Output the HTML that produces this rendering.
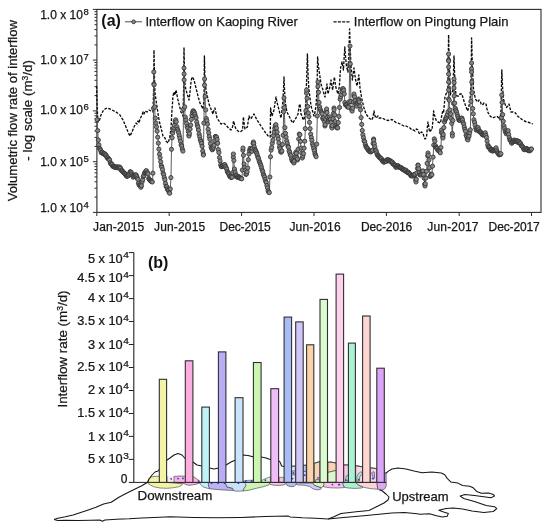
<!DOCTYPE html>
<html><head><meta charset="utf-8"><title>Interflow</title>
<style>html,body{margin:0;padding:0;background:#fff;}body{width:550px;height:529px;position:relative;overflow:hidden;font-family:"Liberation Sans",Arial,sans-serif;}</style>
</head><body>
<svg width="550" height="529" viewBox="0 0 550 529" style="position:absolute;left:0;top:0">
<rect x="0" y="0" width="550" height="529" fill="#fff"/>
<rect x="96.9" y="9.4" width="444.1" height="203.0" fill="none" stroke="#2b2b2b" stroke-width="1.1"/>
<path d="M92.9,9.4H96.9 M94.5,44.9H96.9 M94.5,35.9H96.9 M94.5,29.6H96.9 M94.5,24.7H96.9 M94.5,20.7H96.9 M94.5,17.3H96.9 M94.5,14.3H96.9 M94.5,11.7H96.9 M92.9,60.1H96.9 M94.5,95.6H96.9 M94.5,86.7H96.9 M94.5,80.3H96.9 M94.5,75.4H96.9 M94.5,71.4H96.9 M94.5,68.0H96.9 M94.5,65.1H96.9 M94.5,62.5H96.9 M92.9,110.9H96.9 M94.5,146.4H96.9 M94.5,137.4H96.9 M94.5,131.1H96.9 M94.5,126.2H96.9 M94.5,122.2H96.9 M94.5,118.8H96.9 M94.5,115.8H96.9 M94.5,113.2H96.9 M92.9,161.7H96.9 M94.5,197.1H96.9 M94.5,188.2H96.9 M94.5,181.8H96.9 M94.5,176.9H96.9 M94.5,172.9H96.9 M94.5,169.5H96.9 M94.5,166.6H96.9 M94.5,164.0H96.9 M92.9,212.4H96.9" stroke="#2b2b2b" stroke-width="1" fill="none"/>
<path d="M96.8,212.4V216.0 M169.2,212.4V216.0 M241.6,212.4V216.0 M314,212.4V216.0 M386.4,212.4V216.0 M459.2,212.4V216.0 M531.5,212.4V216.0" stroke="#2b2b2b" stroke-width="1" fill="none"/>
<polyline points="96.6,86.0 97.0,100.0 97.5,115.0 98.0,122.0 99.5,120.0 101.0,115.0 103.0,111.0 105.0,109.0 107.0,108.0 110.0,109.0 113.0,110.5 116.0,112.0 120.0,115.0 123.0,120.0 126.0,127.0 128.0,132.0 130.0,136.0 132.0,132.0 134.0,127.0 136.0,123.0 137.0,124.0 138.0,121.0 139.0,123.0 140.0,119.0 142.0,115.0 143.0,112.0 144.0,114.0 145.0,111.0 147.0,112.0 149.0,110.0 151.0,111.0 153.0,112.0 153.6,90.0 154.0,50.0 154.5,80.0 155.0,93.0 156.0,100.0 157.5,110.0 159.0,120.0 161.0,128.0 163.0,136.0 165.0,138.0 166.0,141.0 168.0,143.0 169.0,140.0 170.0,136.0 171.0,128.0 172.0,110.0 173.0,96.0 174.0,92.0 175.0,95.0 176.0,90.0 177.0,95.0 178.0,100.0 179.5,106.0 181.0,112.0 182.0,114.0 183.0,116.0 183.6,90.0 184.0,47.5 184.5,75.0 185.0,85.0 186.0,90.0 187.5,95.0 189.0,100.0 190.0,92.0 191.0,82.0 192.0,77.0 193.0,78.0 194.0,80.0 195.5,86.0 197.0,92.0 198.5,98.0 200.0,103.0 201.5,106.0 203.0,109.0 204.0,100.0 204.4,56.0 205.0,80.0 206.0,90.0 207.5,97.0 209.0,104.0 211.0,109.0 213.0,114.0 214.0,110.0 215.0,108.0 216.0,113.0 217.0,118.0 219.0,121.0 221.0,124.0 223.5,123.0 226.0,125.0 228.5,128.0 231.0,130.0 232.5,127.0 233.6,121.0 234.8,126.0 236.0,129.0 238.0,131.0 240.0,132.0 241.5,131.0 242.6,130.0 243.4,117.0 244.2,124.0 245.0,129.0 246.2,128.0 247.4,127.0 248.2,121.0 249.0,116.0 250.0,118.0 251.0,119.0 252.5,116.0 254.0,114.0 255.5,117.0 257.0,120.0 259.0,123.0 261.0,126.0 263.0,129.0 265.0,132.0 267.0,134.5 269.0,137.0 270.2,137.0 270.6,108.0 271.3,113.0 272.0,116.0 273.0,113.0 274.0,110.0 275.0,103.0 276.0,97.0 277.0,102.0 278.0,106.0 279.5,112.0 281.0,118.0 282.0,110.0 283.0,100.0 284.0,77.0 285.0,100.0 286.0,107.0 287.0,112.0 288.5,115.0 290.0,118.0 291.5,121.0 293.0,123.0 294.5,120.0 296.0,118.0 297.0,116.0 298.0,114.0 299.4,105.0 300.0,104.0 301.0,114.0 302.0,116.0 303.0,119.0 304.0,120.0 305.0,112.0 306.0,100.0 307.4,54.0 308.2,78.0 309.0,90.0 310.0,98.0 311.0,106.0 312.5,111.0 314.0,116.0 315.0,112.0 316.0,106.0 317.0,90.0 317.6,57.0 318.3,65.0 319.0,70.0 320.0,77.0 321.0,84.0 322.0,87.0 323.0,90.0 324.0,94.0 325.0,97.0 326.0,90.0 327.0,84.0 328.0,94.0 329.0,90.0 329.6,88.0 331.0,80.0 332.0,86.0 332.6,90.0 333.5,83.0 334.4,77.0 335.2,83.0 336.0,88.0 337.0,91.0 338.0,94.0 339.4,86.0 340.0,76.0 340.6,68.0 342.0,62.0 343.4,70.0 344.0,60.0 344.8,47.0 345.6,57.0 346.4,66.0 347.2,69.0 348.0,72.0 348.8,55.0 349.6,29.0 350.3,50.0 351.0,66.0 352.4,80.0 353.2,74.0 354.0,68.0 354.8,74.0 355.6,80.0 357.0,86.0 358.0,80.0 358.8,75.0 359.5,82.0 360.0,88.0 361.0,94.0 362.0,100.0 363.0,104.0 364.0,108.0 365.0,111.0 366.0,114.0 367.5,116.0 369.0,118.0 370.5,119.0 372.0,120.0 373.0,117.0 374.0,111.0 374.8,115.0 375.6,118.0 377.0,117.0 378.0,116.0 379.0,118.0 380.0,118.0 382.0,118.0 384.0,119.0 386.0,120.0 388.0,120.5 390.0,120.0 392.0,119.5 394.0,121.0 396.0,122.5 398.0,123.0 400.0,124.0 402.0,125.0 404.0,126.0 406.0,126.0 408.0,127.0 410.0,128.0 412.0,130.0 413.5,130.0 415.0,131.0 416.5,129.0 418.0,130.0 419.0,133.0 420.0,134.0 421.5,132.0 423.0,133.0 424.0,137.0 425.0,139.0 426.0,138.0 426.6,136.0 427.3,128.0 428.0,122.0 428.8,127.0 429.6,132.0 431.0,130.0 432.0,130.0 433.0,120.0 433.6,111.0 434.5,115.0 436.0,120.0 438.0,122.0 440.5,123.0 441.5,117.0 442.7,111.0 443.6,112.0 445.0,97.0 446.0,94.0 446.8,93.0 447.8,93.0 448.2,60.0 448.6,34.8 449.2,60.0 450.2,95.0 451.0,93.0 451.8,93.0 453.0,90.0 454.0,56.0 455.0,85.0 456.0,95.0 457.5,96.0 458.6,96.0 460.0,94.0 462.0,94.0 463.0,98.0 464.3,102.0 466.0,107.0 467.7,111.0 469.0,106.0 470.0,99.5 471.0,85.0 471.6,38.0 472.3,65.0 473.4,88.0 474.5,95.0 475.7,99.5 477.0,101.0 478.0,102.0 479.0,100.0 480.2,101.0 481.2,104.0 482.5,105.0 484.0,103.0 486.0,104.0 487.0,109.0 488.2,113.0 490.0,116.0 492.7,118.0 495.0,117.0 497.3,116.6 498.7,118.0 500.0,120.0 501.0,110.0 501.8,70.0 502.6,88.0 503.6,99.5 505.0,104.0 506.4,107.5 507.7,106.0 509.0,104.0 510.0,108.0 511.0,112.0 513.0,112.0 515.5,113.0 517.5,116.0 520.0,118.0 522.0,119.5 524.5,121.0 527.0,122.0 529.0,122.5 531.4,123.4 532.8,124.0" fill="none" stroke="#0a0a0a" stroke-width="1.35" stroke-dasharray="2.8 1.4" stroke-linejoin="round"/>
<polyline points="97.1,120.0 97.4,126.0 97.8,132.0 98.4,142.0 99.5,148.0 101.0,152.0 103.0,153.0 105.0,154.0 107.0,157.0 109.0,159.0 111.0,164.0 113.0,166.0 116.0,167.0 118.0,167.0 120.0,168.0 123.0,172.0 125.0,174.0 127.0,176.0 129.0,174.0 131.0,171.0 133.0,177.0 135.0,175.0 137.0,176.0 139.0,185.0 141.0,187.0 142.0,183.0 143.0,178.0 145.0,172.0 146.0,170.0 148.0,174.0 149.0,180.0 151.0,181.0 152.5,183.0 153.0,170.0 153.3,133.0 153.8,72.0 154.5,100.0 155.0,116.0 156.0,124.0 157.0,130.0 158.0,140.0 159.0,150.0 160.0,157.0 161.0,164.0 162.5,170.0 164.0,176.0 165.0,181.0 166.0,186.0 167.0,188.0 168.0,190.0 169.0,192.0 170.0,194.0 171.0,176.0 171.5,149.0 172.0,138.0 173.0,132.0 174.0,127.0 175.0,122.0 176.0,119.0 177.0,128.0 178.0,131.0 179.0,134.0 180.0,139.0 181.0,144.0 182.0,148.0 183.0,151.0 184.0,68.0 184.5,100.0 185.0,116.0 186.0,121.0 187.0,126.0 188.0,130.0 189.0,136.0 190.0,130.0 191.0,122.0 192.0,115.0 193.0,110.0 194.0,112.0 195.0,115.0 196.0,118.0 198.0,128.0 200.0,138.0 202.0,146.0 203.4,155.0 204.6,79.0 205.2,100.0 206.0,116.0 207.0,122.0 208.0,128.0 209.0,134.0 210.0,140.0 211.0,146.0 212.0,150.0 213.0,148.0 214.0,146.0 215.4,136.0 216.5,138.0 217.4,140.0 218.0,147.0 219.0,154.0 220.0,160.0 221.0,166.0 223.0,166.0 225.0,165.0 227.0,170.0 229.0,175.0 231.0,177.0 232.5,178.0 233.4,154.0 234.4,168.0 236.0,176.0 238.0,177.0 240.0,178.0 242.0,179.0 243.0,148.0 244.0,164.0 245.0,170.0 246.0,174.0 247.4,172.0 248.6,156.0 250.0,148.0 251.0,150.0 252.0,152.0 253.4,142.0 255.0,150.0 257.0,154.0 259.0,160.0 261.0,166.0 262.5,171.0 264.0,176.0 266.0,182.0 268.0,190.0 269.4,193.0 270.6,153.0 272.0,146.0 273.4,136.0 275.0,126.0 276.0,124.0 277.0,132.0 278.0,138.0 279.0,144.0 280.0,149.0 281.0,154.0 282.0,150.0 283.0,140.0 283.5,120.0 284.0,98.0 284.5,115.0 285.0,130.0 286.0,136.0 287.0,142.0 288.0,146.0 289.0,150.0 290.5,155.0 292.0,160.0 294.0,163.0 295.0,158.0 296.0,152.0 297.4,160.0 298.2,148.0 299.0,134.0 300.0,135.0 301.0,148.0 302.4,158.0 303.2,155.0 304.0,150.0 305.0,137.0 306.6,90.0 307.2,100.0 308.0,110.0 309.0,118.0 309.6,124.0 311.0,136.0 312.0,141.0 313.0,146.0 314.0,150.0 315.0,154.0 316.4,158.0 318.0,82.0 318.5,92.0 319.0,102.0 320.0,108.0 321.0,112.0 322.0,114.0 323.0,120.0 324.0,118.0 325.0,126.0 326.6,109.0 328.0,122.0 329.0,119.0 330.0,116.0 331.0,122.0 332.0,128.0 333.0,118.0 334.0,108.0 335.0,118.0 335.6,126.0 337.6,128.0 338.3,122.0 339.0,116.0 340.0,100.0 341.0,96.0 342.4,88.0 343.0,89.0 344.0,90.0 345.0,104.0 346.0,105.0 347.0,106.0 348.0,107.0 349.0,108.0 350.0,46.0 351.0,108.0 352.4,112.0 353.2,103.0 354.0,94.0 355.0,100.0 355.6,104.0 357.0,106.0 358.6,99.0 360.0,106.0 360.5,110.0 361.0,116.0 361.7,124.0 362.4,132.0 363.2,136.0 364.0,140.0 365.0,143.0 366.0,146.0 368.0,150.0 369.5,151.0 371.0,152.0 372.5,150.0 373.6,139.0 375.0,148.0 377.0,154.0 378.5,156.0 380.0,158.0 382.0,160.0 384.0,162.0 386.0,161.0 388.0,160.0 390.0,161.0 392.0,162.0 394.0,165.0 396.0,167.0 398.0,166.0 400.0,167.0 402.0,169.0 404.0,170.0 406.0,171.0 408.0,172.0 410.0,174.0 412.0,176.0 413.5,175.0 415.0,174.0 416.0,182.0 417.0,172.0 418.0,165.0 419.0,171.0 420.0,176.0 421.5,173.0 423.0,170.0 424.0,178.0 425.0,186.0 426.0,178.0 427.0,165.0 428.0,153.0 429.0,160.0 430.0,176.0 431.0,175.0 432.0,174.0 433.5,150.0 434.0,137.0 435.0,142.0 435.6,146.0 437.0,148.0 438.0,150.0 439.5,152.0 440.6,154.0 441.2,142.0 441.6,130.0 443.0,138.0 444.4,122.0 445.2,120.0 446.0,118.0 447.0,116.0 448.0,114.0 448.5,100.0 448.6,54.0 449.4,107.0 450.5,114.0 451.6,122.0 452.4,136.0 453.6,100.0 454.0,79.0 454.5,100.0 455.0,108.0 456.0,111.0 457.0,114.0 458.0,118.0 459.0,121.0 460.5,120.0 462.0,118.0 463.0,122.0 464.0,126.0 465.0,130.0 466.0,134.0 467.6,141.0 469.0,136.0 470.4,130.0 471.6,63.0 472.0,90.0 472.5,106.0 473.2,113.0 474.0,120.0 475.0,125.0 476.0,130.0 477.0,129.0 478.0,128.0 479.0,130.0 480.0,132.0 481.5,134.0 483.0,136.0 484.3,134.0 485.6,133.0 487.0,140.0 488.0,146.0 489.5,148.0 491.0,150.0 492.5,150.5 494.0,151.0 495.0,149.0 496.0,148.0 497.0,151.0 498.0,153.0 499.0,154.0 500.0,155.0 501.0,154.0 501.8,95.0 502.4,110.0 503.0,120.0 504.0,126.0 504.7,129.0 505.5,132.0 506.4,134.0 507.2,132.0 508.0,131.0 509.0,136.0 509.8,139.4 511.5,143.0 513.0,141.0 514.0,140.0 515.3,141.0 516.6,141.0 518.0,142.0 519.0,142.0 520.4,144.0 521.7,146.0 523.0,148.0 524.3,149.6 525.5,149.0 526.8,148.8 528.0,150.0 529.4,150.5 530.7,149.8 532.0,149.3" fill="none" stroke="#4a4a4a" stroke-width="0.9" stroke-linejoin="round"/>
<g fill="#868686" stroke="#333" stroke-width="0.85">
<circle cx="97.1" cy="119.6" r="2.1"/>
<circle cx="97.7" cy="130.6" r="2.1"/>
<circle cx="98.3" cy="140.1" r="2.1"/>
<circle cx="98.9" cy="144.9" r="2.1"/>
<circle cx="99.5" cy="148.2" r="2.1"/>
<circle cx="100.1" cy="148.9" r="2.1"/>
<circle cx="100.7" cy="150.4" r="2.1"/>
<circle cx="101.3" cy="152.7" r="2.1"/>
<circle cx="101.9" cy="152.1" r="2.1"/>
<circle cx="102.5" cy="152.3" r="2.1"/>
<circle cx="103.1" cy="153.8" r="2.1"/>
<circle cx="103.7" cy="153.3" r="2.1"/>
<circle cx="104.3" cy="154.2" r="2.1"/>
<circle cx="104.9" cy="153.9" r="2.1"/>
<circle cx="105.5" cy="155.0" r="2.1"/>
<circle cx="106.1" cy="155.1" r="2.1"/>
<circle cx="106.7" cy="156.8" r="2.1"/>
<circle cx="107.3" cy="157.9" r="2.1"/>
<circle cx="107.9" cy="157.9" r="2.1"/>
<circle cx="108.5" cy="158.9" r="2.1"/>
<circle cx="109.1" cy="159.5" r="2.1"/>
<circle cx="109.7" cy="160.1" r="2.1"/>
<circle cx="110.3" cy="162.7" r="2.1"/>
<circle cx="110.9" cy="163.9" r="2.1"/>
<circle cx="111.5" cy="164.2" r="2.1"/>
<circle cx="112.1" cy="164.3" r="2.1"/>
<circle cx="112.7" cy="166.3" r="2.1"/>
<circle cx="113.3" cy="166.1" r="2.1"/>
<circle cx="113.9" cy="166.7" r="2.1"/>
<circle cx="114.5" cy="167.1" r="2.1"/>
<circle cx="115.1" cy="167.0" r="2.1"/>
<circle cx="115.7" cy="167.6" r="2.1"/>
<circle cx="116.3" cy="166.8" r="2.1"/>
<circle cx="116.9" cy="167.5" r="2.1"/>
<circle cx="117.5" cy="166.9" r="2.1"/>
<circle cx="118.1" cy="167.7" r="2.1"/>
<circle cx="118.7" cy="168.0" r="2.1"/>
<circle cx="119.3" cy="167.0" r="2.1"/>
<circle cx="119.9" cy="167.4" r="2.1"/>
<circle cx="120.5" cy="168.2" r="2.1"/>
<circle cx="121.1" cy="170.2" r="2.1"/>
<circle cx="121.7" cy="170.2" r="2.1"/>
<circle cx="122.3" cy="171.3" r="2.1"/>
<circle cx="122.9" cy="171.5" r="2.1"/>
<circle cx="123.5" cy="172.5" r="2.1"/>
<circle cx="124.1" cy="172.9" r="2.1"/>
<circle cx="124.7" cy="173.5" r="2.1"/>
<circle cx="125.3" cy="174.4" r="2.1"/>
<circle cx="125.9" cy="175.0" r="2.1"/>
<circle cx="126.5" cy="176.1" r="2.1"/>
<circle cx="127.1" cy="176.2" r="2.1"/>
<circle cx="127.7" cy="176.0" r="2.1"/>
<circle cx="128.3" cy="175.3" r="2.1"/>
<circle cx="128.9" cy="174.9" r="2.1"/>
<circle cx="129.5" cy="173.5" r="2.1"/>
<circle cx="130.1" cy="171.8" r="2.1"/>
<circle cx="130.7" cy="172.0" r="2.1"/>
<circle cx="131.3" cy="172.6" r="2.1"/>
<circle cx="131.9" cy="174.3" r="2.1"/>
<circle cx="132.5" cy="175.6" r="2.1"/>
<circle cx="133.1" cy="177.2" r="2.1"/>
<circle cx="133.7" cy="175.8" r="2.1"/>
<circle cx="134.3" cy="176.2" r="2.1"/>
<circle cx="134.9" cy="175.2" r="2.1"/>
<circle cx="135.5" cy="174.9" r="2.1"/>
<circle cx="136.1" cy="174.9" r="2.1"/>
<circle cx="136.7" cy="176.4" r="2.1"/>
<circle cx="137.3" cy="178.1" r="2.1"/>
<circle cx="137.9" cy="179.4" r="2.1"/>
<circle cx="138.5" cy="183.2" r="2.1"/>
<circle cx="139.1" cy="185.0" r="2.1"/>
<circle cx="139.7" cy="185.1" r="2.1"/>
<circle cx="140.3" cy="186.0" r="2.1"/>
<circle cx="140.9" cy="187.3" r="2.1"/>
<circle cx="141.5" cy="185.6" r="2.1"/>
<circle cx="142.1" cy="181.8" r="2.1"/>
<circle cx="142.7" cy="179.7" r="2.1"/>
<circle cx="143.3" cy="176.4" r="2.1"/>
<circle cx="143.9" cy="175.6" r="2.1"/>
<circle cx="144.5" cy="173.2" r="2.1"/>
<circle cx="145.1" cy="172.4" r="2.1"/>
<circle cx="145.7" cy="171.4" r="2.1"/>
<circle cx="146.3" cy="170.6" r="2.1"/>
<circle cx="146.9" cy="172.6" r="2.1"/>
<circle cx="147.5" cy="172.7" r="2.1"/>
<circle cx="148.1" cy="173.9" r="2.1"/>
<circle cx="148.7" cy="178.4" r="2.1"/>
<circle cx="149.3" cy="179.4" r="2.1"/>
<circle cx="149.9" cy="180.0" r="2.1"/>
<circle cx="150.5" cy="180.6" r="2.1"/>
<circle cx="151.1" cy="181.3" r="2.1"/>
<circle cx="151.7" cy="181.4" r="2.1"/>
<circle cx="152.3" cy="182.0" r="2.1"/>
<circle cx="152.9" cy="173.2" r="2.1"/>
<circle cx="153.5" cy="108.3" r="2.1"/>
<circle cx="153.8" cy="72.0" r="2.1"/>
<circle cx="153.9" cy="84.0" r="2.1"/>
<circle cx="154.1" cy="84.7" r="2.1"/>
<circle cx="154.7" cy="107.0" r="2.1"/>
<circle cx="155.3" cy="118.2" r="2.1"/>
<circle cx="155.9" cy="123.1" r="2.1"/>
<circle cx="156.5" cy="127.0" r="2.1"/>
<circle cx="157.1" cy="131.2" r="2.1"/>
<circle cx="157.7" cy="137.2" r="2.1"/>
<circle cx="158.3" cy="143.1" r="2.1"/>
<circle cx="158.9" cy="149.2" r="2.1"/>
<circle cx="159.5" cy="154.2" r="2.1"/>
<circle cx="160.1" cy="157.7" r="2.1"/>
<circle cx="160.7" cy="161.8" r="2.1"/>
<circle cx="161.3" cy="165.6" r="2.1"/>
<circle cx="161.9" cy="167.2" r="2.1"/>
<circle cx="162.5" cy="169.7" r="2.1"/>
<circle cx="163.1" cy="173.2" r="2.1"/>
<circle cx="163.7" cy="174.8" r="2.1"/>
<circle cx="164.3" cy="177.6" r="2.1"/>
<circle cx="164.9" cy="179.7" r="2.1"/>
<circle cx="165.5" cy="183.4" r="2.1"/>
<circle cx="166.1" cy="186.3" r="2.1"/>
<circle cx="166.7" cy="186.6" r="2.1"/>
<circle cx="167.3" cy="188.8" r="2.1"/>
<circle cx="167.9" cy="190.0" r="2.1"/>
<circle cx="168.5" cy="190.3" r="2.1"/>
<circle cx="169.1" cy="192.4" r="2.1"/>
<circle cx="169.7" cy="193.3" r="2.1"/>
<circle cx="170.3" cy="188.9" r="2.1"/>
<circle cx="170.9" cy="177.6" r="2.1"/>
<circle cx="171.5" cy="149.3" r="2.1"/>
<circle cx="172.1" cy="137.8" r="2.1"/>
<circle cx="172.7" cy="133.0" r="2.1"/>
<circle cx="173.3" cy="129.8" r="2.1"/>
<circle cx="173.9" cy="127.8" r="2.1"/>
<circle cx="174.5" cy="125.2" r="2.1"/>
<circle cx="175.1" cy="121.3" r="2.1"/>
<circle cx="175.7" cy="119.8" r="2.1"/>
<circle cx="176.3" cy="121.8" r="2.1"/>
<circle cx="176.9" cy="126.8" r="2.1"/>
<circle cx="177.5" cy="129.3" r="2.1"/>
<circle cx="178.1" cy="131.0" r="2.1"/>
<circle cx="178.7" cy="132.9" r="2.1"/>
<circle cx="179.3" cy="135.7" r="2.1"/>
<circle cx="179.9" cy="138.2" r="2.1"/>
<circle cx="180.5" cy="141.3" r="2.1"/>
<circle cx="181.1" cy="144.8" r="2.1"/>
<circle cx="181.7" cy="146.0" r="2.1"/>
<circle cx="182.3" cy="149.0" r="2.1"/>
<circle cx="182.9" cy="151.1" r="2.1"/>
<circle cx="183.5" cy="109.2" r="2.1"/>
<circle cx="184.0" cy="68.0" r="2.1"/>
<circle cx="184.1" cy="74.0" r="2.1"/>
<circle cx="184.1" cy="80.0" r="2.1"/>
<circle cx="184.7" cy="106.9" r="2.1"/>
<circle cx="185.3" cy="117.1" r="2.1"/>
<circle cx="185.9" cy="120.0" r="2.1"/>
<circle cx="186.5" cy="123.4" r="2.1"/>
<circle cx="187.1" cy="126.7" r="2.1"/>
<circle cx="187.7" cy="128.2" r="2.1"/>
<circle cx="188.3" cy="131.5" r="2.1"/>
<circle cx="188.9" cy="135.1" r="2.1"/>
<circle cx="189.0" cy="136.0" r="2.1"/>
<circle cx="189.5" cy="133.5" r="2.1"/>
<circle cx="190.1" cy="129.1" r="2.1"/>
<circle cx="190.7" cy="125.0" r="2.1"/>
<circle cx="191.3" cy="119.4" r="2.1"/>
<circle cx="191.9" cy="115.4" r="2.1"/>
<circle cx="192.5" cy="112.7" r="2.1"/>
<circle cx="193.1" cy="110.8" r="2.1"/>
<circle cx="193.7" cy="111.3" r="2.1"/>
<circle cx="194.3" cy="112.5" r="2.1"/>
<circle cx="194.9" cy="114.1" r="2.1"/>
<circle cx="195.5" cy="116.5" r="2.1"/>
<circle cx="196.1" cy="118.0" r="2.1"/>
<circle cx="196.7" cy="122.0" r="2.1"/>
<circle cx="197.3" cy="125.0" r="2.1"/>
<circle cx="197.9" cy="127.0" r="2.1"/>
<circle cx="198.5" cy="130.1" r="2.1"/>
<circle cx="199.1" cy="134.0" r="2.1"/>
<circle cx="199.7" cy="136.7" r="2.1"/>
<circle cx="200.3" cy="139.7" r="2.1"/>
<circle cx="200.9" cy="141.4" r="2.1"/>
<circle cx="201.5" cy="143.4" r="2.1"/>
<circle cx="202.1" cy="146.3" r="2.1"/>
<circle cx="202.7" cy="151.0" r="2.1"/>
<circle cx="203.3" cy="154.0" r="2.1"/>
<circle cx="203.4" cy="155.0" r="2.1"/>
<circle cx="203.9" cy="123.1" r="2.1"/>
<circle cx="204.5" cy="85.2" r="2.1"/>
<circle cx="204.6" cy="79.0" r="2.1"/>
<circle cx="205.1" cy="96.4" r="2.1"/>
<circle cx="205.7" cy="109.9" r="2.1"/>
<circle cx="206.3" cy="118.5" r="2.1"/>
<circle cx="206.9" cy="120.8" r="2.1"/>
<circle cx="207.5" cy="124.2" r="2.1"/>
<circle cx="208.1" cy="129.3" r="2.1"/>
<circle cx="208.7" cy="132.8" r="2.1"/>
<circle cx="209.3" cy="136.6" r="2.1"/>
<circle cx="209.9" cy="139.3" r="2.1"/>
<circle cx="210.5" cy="143.7" r="2.1"/>
<circle cx="211.1" cy="147.1" r="2.1"/>
<circle cx="211.7" cy="148.4" r="2.1"/>
<circle cx="212.3" cy="149.8" r="2.1"/>
<circle cx="212.9" cy="148.7" r="2.1"/>
<circle cx="213.5" cy="147.3" r="2.1"/>
<circle cx="214.1" cy="145.3" r="2.1"/>
<circle cx="214.7" cy="140.7" r="2.1"/>
<circle cx="215.3" cy="136.5" r="2.1"/>
<circle cx="215.9" cy="136.5" r="2.1"/>
<circle cx="216.5" cy="137.3" r="2.1"/>
<circle cx="217.1" cy="139.5" r="2.1"/>
<circle cx="217.7" cy="143.2" r="2.1"/>
<circle cx="218.3" cy="149.6" r="2.1"/>
<circle cx="218.9" cy="152.6" r="2.1"/>
<circle cx="219.5" cy="157.6" r="2.1"/>
<circle cx="220.1" cy="160.9" r="2.1"/>
<circle cx="220.7" cy="164.9" r="2.1"/>
<circle cx="221.3" cy="166.6" r="2.1"/>
<circle cx="221.9" cy="166.6" r="2.1"/>
<circle cx="222.5" cy="166.1" r="2.1"/>
<circle cx="223.1" cy="165.2" r="2.1"/>
<circle cx="223.7" cy="166.0" r="2.1"/>
<circle cx="224.3" cy="164.8" r="2.1"/>
<circle cx="224.9" cy="164.7" r="2.1"/>
<circle cx="225.5" cy="166.5" r="2.1"/>
<circle cx="226.1" cy="167.8" r="2.1"/>
<circle cx="226.7" cy="169.1" r="2.1"/>
<circle cx="227.3" cy="171.5" r="2.1"/>
<circle cx="227.9" cy="172.4" r="2.1"/>
<circle cx="228.5" cy="173.5" r="2.1"/>
<circle cx="229.1" cy="174.7" r="2.1"/>
<circle cx="229.7" cy="176.3" r="2.1"/>
<circle cx="230.3" cy="176.3" r="2.1"/>
<circle cx="230.9" cy="177.4" r="2.1"/>
<circle cx="231.5" cy="177.1" r="2.1"/>
<circle cx="232.1" cy="177.2" r="2.1"/>
<circle cx="232.7" cy="172.7" r="2.1"/>
<circle cx="233.3" cy="157.2" r="2.1"/>
<circle cx="233.4" cy="154.0" r="2.1"/>
<circle cx="233.9" cy="160.5" r="2.1"/>
<circle cx="234.5" cy="169.0" r="2.1"/>
<circle cx="235.1" cy="172.2" r="2.1"/>
<circle cx="235.7" cy="175.0" r="2.1"/>
<circle cx="236.3" cy="176.7" r="2.1"/>
<circle cx="236.9" cy="175.7" r="2.1"/>
<circle cx="237.5" cy="177.0" r="2.1"/>
<circle cx="238.1" cy="177.6" r="2.1"/>
<circle cx="238.7" cy="176.6" r="2.1"/>
<circle cx="239.3" cy="177.3" r="2.1"/>
<circle cx="239.9" cy="177.6" r="2.1"/>
<circle cx="240.5" cy="178.3" r="2.1"/>
<circle cx="241.1" cy="178.4" r="2.1"/>
<circle cx="241.7" cy="178.8" r="2.1"/>
<circle cx="242.3" cy="170.1" r="2.1"/>
<circle cx="242.9" cy="150.3" r="2.1"/>
<circle cx="243.0" cy="148.0" r="2.1"/>
<circle cx="243.5" cy="155.3" r="2.1"/>
<circle cx="244.1" cy="164.0" r="2.1"/>
<circle cx="244.7" cy="167.6" r="2.1"/>
<circle cx="245.3" cy="170.5" r="2.1"/>
<circle cx="245.9" cy="174.4" r="2.1"/>
<circle cx="246.5" cy="173.9" r="2.1"/>
<circle cx="247.1" cy="171.8" r="2.1"/>
<circle cx="247.7" cy="168.0" r="2.1"/>
<circle cx="248.3" cy="159.7" r="2.1"/>
<circle cx="248.9" cy="154.0" r="2.1"/>
<circle cx="249.5" cy="150.6" r="2.1"/>
<circle cx="250.1" cy="148.4" r="2.1"/>
<circle cx="250.7" cy="149.5" r="2.1"/>
<circle cx="251.3" cy="150.4" r="2.1"/>
<circle cx="251.9" cy="151.3" r="2.1"/>
<circle cx="252.5" cy="148.2" r="2.1"/>
<circle cx="253.1" cy="143.5" r="2.1"/>
<circle cx="253.4" cy="142.0" r="2.1"/>
<circle cx="253.7" cy="143.6" r="2.1"/>
<circle cx="254.3" cy="146.8" r="2.1"/>
<circle cx="254.9" cy="149.3" r="2.1"/>
<circle cx="255.5" cy="150.3" r="2.1"/>
<circle cx="256.1" cy="151.7" r="2.1"/>
<circle cx="256.7" cy="153.2" r="2.1"/>
<circle cx="257.3" cy="155.1" r="2.1"/>
<circle cx="257.9" cy="157.2" r="2.1"/>
<circle cx="258.5" cy="158.3" r="2.1"/>
<circle cx="259.1" cy="160.8" r="2.1"/>
<circle cx="259.7" cy="162.3" r="2.1"/>
<circle cx="260.3" cy="163.8" r="2.1"/>
<circle cx="260.9" cy="165.5" r="2.1"/>
<circle cx="261.5" cy="167.7" r="2.1"/>
<circle cx="262.1" cy="170.0" r="2.1"/>
<circle cx="262.7" cy="171.5" r="2.1"/>
<circle cx="263.3" cy="174.0" r="2.1"/>
<circle cx="263.9" cy="175.6" r="2.1"/>
<circle cx="264.5" cy="177.1" r="2.1"/>
<circle cx="265.1" cy="179.4" r="2.1"/>
<circle cx="265.7" cy="181.4" r="2.1"/>
<circle cx="266.3" cy="182.5" r="2.1"/>
<circle cx="266.9" cy="185.5" r="2.1"/>
<circle cx="267.5" cy="187.9" r="2.1"/>
<circle cx="268.1" cy="190.8" r="2.1"/>
<circle cx="268.7" cy="192.2" r="2.1"/>
<circle cx="269.3" cy="192.6" r="2.1"/>
<circle cx="269.9" cy="177.0" r="2.1"/>
<circle cx="270.5" cy="156.8" r="2.1"/>
<circle cx="271.1" cy="150.1" r="2.1"/>
<circle cx="271.7" cy="147.4" r="2.1"/>
<circle cx="272.3" cy="143.3" r="2.1"/>
<circle cx="272.9" cy="140.1" r="2.1"/>
<circle cx="273.5" cy="135.6" r="2.1"/>
<circle cx="274.1" cy="132.2" r="2.1"/>
<circle cx="274.7" cy="128.3" r="2.1"/>
<circle cx="275.3" cy="125.7" r="2.1"/>
<circle cx="275.9" cy="124.6" r="2.1"/>
<circle cx="276.5" cy="128.1" r="2.1"/>
<circle cx="277.1" cy="132.0" r="2.1"/>
<circle cx="277.7" cy="136.3" r="2.1"/>
<circle cx="278.3" cy="139.0" r="2.1"/>
<circle cx="278.9" cy="142.8" r="2.1"/>
<circle cx="279.5" cy="146.9" r="2.1"/>
<circle cx="280.1" cy="148.8" r="2.1"/>
<circle cx="280.7" cy="151.8" r="2.1"/>
<circle cx="281.3" cy="152.2" r="2.1"/>
<circle cx="281.9" cy="151.0" r="2.1"/>
<circle cx="282.5" cy="144.5" r="2.1"/>
<circle cx="283.1" cy="135.2" r="2.1"/>
<circle cx="283.7" cy="111.7" r="2.1"/>
<circle cx="284.0" cy="98.0" r="2.1"/>
<circle cx="284.3" cy="107.6" r="2.1"/>
<circle cx="284.9" cy="127.6" r="2.1"/>
<circle cx="285.5" cy="133.3" r="2.1"/>
<circle cx="286.1" cy="137.1" r="2.1"/>
<circle cx="286.7" cy="140.9" r="2.1"/>
<circle cx="287.3" cy="143.3" r="2.1"/>
<circle cx="287.9" cy="146.1" r="2.1"/>
<circle cx="288.5" cy="147.3" r="2.1"/>
<circle cx="289.1" cy="150.8" r="2.1"/>
<circle cx="289.7" cy="152.4" r="2.1"/>
<circle cx="290.3" cy="154.7" r="2.1"/>
<circle cx="290.9" cy="155.7" r="2.1"/>
<circle cx="291.5" cy="158.7" r="2.1"/>
<circle cx="292.1" cy="160.8" r="2.1"/>
<circle cx="292.7" cy="160.3" r="2.1"/>
<circle cx="293.3" cy="161.7" r="2.1"/>
<circle cx="293.9" cy="163.0" r="2.1"/>
<circle cx="294.5" cy="161.0" r="2.1"/>
<circle cx="295.1" cy="157.0" r="2.1"/>
<circle cx="295.7" cy="153.3" r="2.1"/>
<circle cx="296.0" cy="152.0" r="2.1"/>
<circle cx="296.3" cy="153.3" r="2.1"/>
<circle cx="296.9" cy="157.3" r="2.1"/>
<circle cx="297.4" cy="160.0" r="2.1"/>
<circle cx="297.5" cy="158.9" r="2.1"/>
<circle cx="298.1" cy="149.3" r="2.1"/>
<circle cx="298.7" cy="139.0" r="2.1"/>
<circle cx="299.3" cy="134.1" r="2.1"/>
<circle cx="299.9" cy="134.7" r="2.1"/>
<circle cx="300.5" cy="141.4" r="2.1"/>
<circle cx="301.1" cy="148.0" r="2.1"/>
<circle cx="301.7" cy="153.0" r="2.1"/>
<circle cx="302.3" cy="158.0" r="2.1"/>
<circle cx="302.9" cy="156.0" r="2.1"/>
<circle cx="303.5" cy="153.5" r="2.1"/>
<circle cx="304.1" cy="148.2" r="2.1"/>
<circle cx="304.7" cy="141.2" r="2.1"/>
<circle cx="305.3" cy="128.6" r="2.1"/>
<circle cx="305.9" cy="110.8" r="2.1"/>
<circle cx="306.5" cy="93.0" r="2.1"/>
<circle cx="306.6" cy="90.0" r="2.1"/>
<circle cx="307.1" cy="98.3" r="2.1"/>
<circle cx="307.7" cy="106.5" r="2.1"/>
<circle cx="308.3" cy="113.0" r="2.1"/>
<circle cx="308.9" cy="116.6" r="2.1"/>
<circle cx="309.5" cy="122.4" r="2.1"/>
<circle cx="310.1" cy="128.7" r="2.1"/>
<circle cx="310.7" cy="134.1" r="2.1"/>
<circle cx="311.3" cy="137.5" r="2.1"/>
<circle cx="311.9" cy="140.4" r="2.1"/>
<circle cx="312.5" cy="143.9" r="2.1"/>
<circle cx="313.1" cy="145.9" r="2.1"/>
<circle cx="313.7" cy="148.4" r="2.1"/>
<circle cx="314.3" cy="150.7" r="2.1"/>
<circle cx="314.9" cy="153.7" r="2.1"/>
<circle cx="315.5" cy="155.1" r="2.1"/>
<circle cx="316.1" cy="156.7" r="2.1"/>
<circle cx="316.7" cy="144.1" r="2.1"/>
<circle cx="317.3" cy="116.0" r="2.1"/>
<circle cx="317.9" cy="86.4" r="2.1"/>
<circle cx="318.0" cy="82.0" r="2.1"/>
<circle cx="318.5" cy="92.3" r="2.1"/>
<circle cx="319.1" cy="102.5" r="2.1"/>
<circle cx="319.7" cy="106.8" r="2.1"/>
<circle cx="320.3" cy="109.3" r="2.1"/>
<circle cx="320.9" cy="111.2" r="2.1"/>
<circle cx="321.5" cy="112.5" r="2.1"/>
<circle cx="322.1" cy="113.8" r="2.1"/>
<circle cx="322.7" cy="118.2" r="2.1"/>
<circle cx="323.3" cy="119.2" r="2.1"/>
<circle cx="323.9" cy="117.7" r="2.1"/>
<circle cx="324.5" cy="121.8" r="2.1"/>
<circle cx="325.0" cy="126.0" r="2.1"/>
<circle cx="325.1" cy="124.7" r="2.1"/>
<circle cx="325.7" cy="119.0" r="2.1"/>
<circle cx="326.3" cy="111.6" r="2.1"/>
<circle cx="326.6" cy="109.0" r="2.1"/>
<circle cx="326.9" cy="112.6" r="2.1"/>
<circle cx="327.5" cy="117.3" r="2.1"/>
<circle cx="328.1" cy="121.9" r="2.1"/>
<circle cx="328.7" cy="119.8" r="2.1"/>
<circle cx="329.3" cy="118.6" r="2.1"/>
<circle cx="329.9" cy="116.8" r="2.1"/>
<circle cx="330.5" cy="119.1" r="2.1"/>
<circle cx="331.1" cy="122.6" r="2.1"/>
<circle cx="331.7" cy="126.6" r="2.1"/>
<circle cx="332.0" cy="128.0" r="2.1"/>
<circle cx="332.3" cy="125.6" r="2.1"/>
<circle cx="332.9" cy="118.8" r="2.1"/>
<circle cx="333.5" cy="113.4" r="2.1"/>
<circle cx="334.0" cy="108.0" r="2.1"/>
<circle cx="334.1" cy="109.7" r="2.1"/>
<circle cx="334.7" cy="114.9" r="2.1"/>
<circle cx="335.3" cy="121.6" r="2.1"/>
<circle cx="335.9" cy="125.9" r="2.1"/>
<circle cx="336.5" cy="127.2" r="2.1"/>
<circle cx="337.1" cy="127.8" r="2.1"/>
<circle cx="337.7" cy="127.9" r="2.1"/>
<circle cx="338.3" cy="122.6" r="2.1"/>
<circle cx="338.9" cy="116.4" r="2.1"/>
<circle cx="339.5" cy="107.5" r="2.1"/>
<circle cx="340.1" cy="99.2" r="2.1"/>
<circle cx="340.7" cy="96.7" r="2.1"/>
<circle cx="341.3" cy="94.6" r="2.1"/>
<circle cx="341.9" cy="91.4" r="2.1"/>
<circle cx="342.5" cy="88.8" r="2.1"/>
<circle cx="343.1" cy="88.7" r="2.1"/>
<circle cx="343.7" cy="90.3" r="2.1"/>
<circle cx="344.3" cy="93.9" r="2.1"/>
<circle cx="344.9" cy="102.5" r="2.1"/>
<circle cx="345.5" cy="104.9" r="2.1"/>
<circle cx="346.1" cy="104.4" r="2.1"/>
<circle cx="346.7" cy="105.0" r="2.1"/>
<circle cx="347.3" cy="106.8" r="2.1"/>
<circle cx="347.9" cy="106.6" r="2.1"/>
<circle cx="348.5" cy="107.3" r="2.1"/>
<circle cx="349.1" cy="101.9" r="2.1"/>
<circle cx="349.7" cy="64.9" r="2.1"/>
<circle cx="350.0" cy="46.0" r="2.1"/>
<circle cx="350.3" cy="63.8" r="2.1"/>
<circle cx="350.9" cy="101.5" r="2.1"/>
<circle cx="351.5" cy="109.3" r="2.1"/>
<circle cx="352.1" cy="111.1" r="2.1"/>
<circle cx="352.7" cy="108.2" r="2.1"/>
<circle cx="353.3" cy="102.0" r="2.1"/>
<circle cx="353.9" cy="95.9" r="2.1"/>
<circle cx="354.0" cy="94.0" r="2.1"/>
<circle cx="354.5" cy="96.8" r="2.1"/>
<circle cx="355.1" cy="100.7" r="2.1"/>
<circle cx="355.7" cy="103.5" r="2.1"/>
<circle cx="356.3" cy="104.6" r="2.1"/>
<circle cx="356.9" cy="106.1" r="2.1"/>
<circle cx="357.5" cy="103.2" r="2.1"/>
<circle cx="358.1" cy="101.8" r="2.1"/>
<circle cx="358.6" cy="99.0" r="2.1"/>
<circle cx="358.7" cy="100.2" r="2.1"/>
<circle cx="359.3" cy="101.9" r="2.1"/>
<circle cx="359.9" cy="106.2" r="2.1"/>
<circle cx="360.5" cy="109.8" r="2.1"/>
<circle cx="361.1" cy="117.6" r="2.1"/>
<circle cx="361.7" cy="124.4" r="2.1"/>
<circle cx="362.3" cy="130.5" r="2.1"/>
<circle cx="362.9" cy="134.8" r="2.1"/>
<circle cx="363.5" cy="137.7" r="2.1"/>
<circle cx="364.1" cy="140.8" r="2.1"/>
<circle cx="364.7" cy="141.7" r="2.1"/>
<circle cx="365.3" cy="144.3" r="2.1"/>
<circle cx="365.9" cy="146.4" r="2.1"/>
<circle cx="366.5" cy="147.3" r="2.1"/>
<circle cx="367.1" cy="148.3" r="2.1"/>
<circle cx="367.7" cy="148.8" r="2.1"/>
<circle cx="368.3" cy="150.2" r="2.1"/>
<circle cx="368.9" cy="150.4" r="2.1"/>
<circle cx="369.5" cy="151.3" r="2.1"/>
<circle cx="370.1" cy="151.7" r="2.1"/>
<circle cx="370.7" cy="151.9" r="2.1"/>
<circle cx="371.3" cy="151.1" r="2.1"/>
<circle cx="371.9" cy="151.0" r="2.1"/>
<circle cx="372.5" cy="150.2" r="2.1"/>
<circle cx="373.1" cy="143.5" r="2.1"/>
<circle cx="373.6" cy="139.0" r="2.1"/>
<circle cx="373.7" cy="140.3" r="2.1"/>
<circle cx="374.3" cy="143.7" r="2.1"/>
<circle cx="374.9" cy="146.8" r="2.1"/>
<circle cx="375.5" cy="150.2" r="2.1"/>
<circle cx="376.1" cy="150.7" r="2.1"/>
<circle cx="376.7" cy="152.8" r="2.1"/>
<circle cx="377.3" cy="154.8" r="2.1"/>
<circle cx="377.9" cy="155.4" r="2.1"/>
<circle cx="378.5" cy="156.1" r="2.1"/>
<circle cx="379.1" cy="157.0" r="2.1"/>
<circle cx="379.7" cy="157.5" r="2.1"/>
<circle cx="380.3" cy="158.0" r="2.1"/>
<circle cx="380.9" cy="158.4" r="2.1"/>
<circle cx="381.5" cy="158.8" r="2.1"/>
<circle cx="382.1" cy="160.4" r="2.1"/>
<circle cx="382.7" cy="161.1" r="2.1"/>
<circle cx="383.3" cy="161.4" r="2.1"/>
<circle cx="383.9" cy="162.3" r="2.1"/>
<circle cx="384.5" cy="161.5" r="2.1"/>
<circle cx="385.1" cy="161.1" r="2.1"/>
<circle cx="385.7" cy="161.0" r="2.1"/>
<circle cx="386.3" cy="161.4" r="2.1"/>
<circle cx="386.9" cy="159.8" r="2.1"/>
<circle cx="387.5" cy="160.3" r="2.1"/>
<circle cx="388.1" cy="159.6" r="2.1"/>
<circle cx="388.7" cy="160.8" r="2.1"/>
<circle cx="389.3" cy="160.4" r="2.1"/>
<circle cx="389.9" cy="160.7" r="2.1"/>
<circle cx="390.5" cy="161.1" r="2.1"/>
<circle cx="391.1" cy="161.6" r="2.1"/>
<circle cx="391.7" cy="162.3" r="2.1"/>
<circle cx="392.3" cy="162.2" r="2.1"/>
<circle cx="392.9" cy="163.9" r="2.1"/>
<circle cx="393.5" cy="163.6" r="2.1"/>
<circle cx="394.1" cy="164.7" r="2.1"/>
<circle cx="394.7" cy="165.1" r="2.1"/>
<circle cx="395.3" cy="165.7" r="2.1"/>
<circle cx="395.9" cy="167.3" r="2.1"/>
<circle cx="396.5" cy="167.1" r="2.1"/>
<circle cx="397.1" cy="165.9" r="2.1"/>
<circle cx="397.7" cy="165.7" r="2.1"/>
<circle cx="398.3" cy="166.0" r="2.1"/>
<circle cx="398.9" cy="166.8" r="2.1"/>
<circle cx="399.5" cy="167.3" r="2.1"/>
<circle cx="400.1" cy="167.5" r="2.1"/>
<circle cx="400.7" cy="167.8" r="2.1"/>
<circle cx="401.3" cy="167.7" r="2.1"/>
<circle cx="401.9" cy="168.7" r="2.1"/>
<circle cx="402.5" cy="168.8" r="2.1"/>
<circle cx="403.1" cy="169.6" r="2.1"/>
<circle cx="403.7" cy="170.0" r="2.1"/>
<circle cx="404.3" cy="169.7" r="2.1"/>
<circle cx="404.9" cy="170.1" r="2.1"/>
<circle cx="405.5" cy="171.2" r="2.1"/>
<circle cx="406.1" cy="170.3" r="2.1"/>
<circle cx="406.7" cy="171.8" r="2.1"/>
<circle cx="407.3" cy="172.3" r="2.1"/>
<circle cx="407.9" cy="172.7" r="2.1"/>
<circle cx="408.5" cy="172.3" r="2.1"/>
<circle cx="409.1" cy="173.2" r="2.1"/>
<circle cx="409.7" cy="173.8" r="2.1"/>
<circle cx="410.3" cy="174.5" r="2.1"/>
<circle cx="410.9" cy="175.7" r="2.1"/>
<circle cx="411.5" cy="175.8" r="2.1"/>
<circle cx="412.1" cy="175.6" r="2.1"/>
<circle cx="412.7" cy="176.1" r="2.1"/>
<circle cx="413.3" cy="175.1" r="2.1"/>
<circle cx="413.9" cy="174.9" r="2.1"/>
<circle cx="414.5" cy="174.7" r="2.1"/>
<circle cx="415.1" cy="174.0" r="2.1"/>
<circle cx="415.7" cy="180.0" r="2.1"/>
<circle cx="416.0" cy="182.0" r="2.1"/>
<circle cx="416.3" cy="179.3" r="2.1"/>
<circle cx="416.9" cy="173.0" r="2.1"/>
<circle cx="417.5" cy="168.5" r="2.1"/>
<circle cx="418.0" cy="165.0" r="2.1"/>
<circle cx="418.1" cy="165.5" r="2.1"/>
<circle cx="418.7" cy="168.7" r="2.1"/>
<circle cx="419.3" cy="172.5" r="2.1"/>
<circle cx="419.9" cy="174.8" r="2.1"/>
<circle cx="420.5" cy="175.0" r="2.1"/>
<circle cx="421.1" cy="174.0" r="2.1"/>
<circle cx="421.7" cy="172.5" r="2.1"/>
<circle cx="422.3" cy="171.5" r="2.1"/>
<circle cx="422.9" cy="170.9" r="2.1"/>
<circle cx="423.5" cy="174.6" r="2.1"/>
<circle cx="424.1" cy="178.2" r="2.1"/>
<circle cx="424.7" cy="184.1" r="2.1"/>
<circle cx="425.0" cy="186.0" r="2.1"/>
<circle cx="425.3" cy="183.8" r="2.1"/>
<circle cx="425.9" cy="178.1" r="2.1"/>
<circle cx="426.5" cy="171.3" r="2.1"/>
<circle cx="427.1" cy="163.4" r="2.1"/>
<circle cx="427.7" cy="155.9" r="2.1"/>
<circle cx="428.0" cy="153.0" r="2.1"/>
<circle cx="428.3" cy="155.2" r="2.1"/>
<circle cx="428.9" cy="160.0" r="2.1"/>
<circle cx="429.5" cy="167.7" r="2.1"/>
<circle cx="430.1" cy="176.5" r="2.1"/>
<circle cx="430.7" cy="175.6" r="2.1"/>
<circle cx="431.3" cy="174.1" r="2.1"/>
<circle cx="431.9" cy="174.7" r="2.1"/>
<circle cx="432.5" cy="166.2" r="2.1"/>
<circle cx="433.1" cy="157.1" r="2.1"/>
<circle cx="433.7" cy="145.1" r="2.1"/>
<circle cx="434.3" cy="138.9" r="2.1"/>
<circle cx="434.9" cy="141.2" r="2.1"/>
<circle cx="435.5" cy="145.8" r="2.1"/>
<circle cx="436.1" cy="147.4" r="2.1"/>
<circle cx="436.7" cy="148.1" r="2.1"/>
<circle cx="437.3" cy="148.5" r="2.1"/>
<circle cx="437.9" cy="150.2" r="2.1"/>
<circle cx="438.5" cy="150.6" r="2.1"/>
<circle cx="439.1" cy="150.8" r="2.1"/>
<circle cx="439.7" cy="151.6" r="2.1"/>
<circle cx="440.3" cy="152.8" r="2.1"/>
<circle cx="440.9" cy="147.5" r="2.1"/>
<circle cx="441.5" cy="132.5" r="2.1"/>
<circle cx="441.6" cy="130.0" r="2.1"/>
<circle cx="442.1" cy="132.9" r="2.1"/>
<circle cx="442.7" cy="136.6" r="2.1"/>
<circle cx="443.0" cy="138.0" r="2.1"/>
<circle cx="443.3" cy="134.6" r="2.1"/>
<circle cx="443.9" cy="127.6" r="2.1"/>
<circle cx="444.5" cy="122.0" r="2.1"/>
<circle cx="445.1" cy="119.9" r="2.1"/>
<circle cx="445.7" cy="118.7" r="2.1"/>
<circle cx="446.3" cy="117.8" r="2.1"/>
<circle cx="446.9" cy="116.0" r="2.1"/>
<circle cx="447.5" cy="114.5" r="2.1"/>
<circle cx="448.1" cy="111.8" r="2.1"/>
<circle cx="448.6" cy="54.0" r="2.1"/>
<circle cx="448.6" cy="60.0" r="2.1"/>
<circle cx="448.6" cy="67.0" r="2.1"/>
<circle cx="448.6" cy="74.0" r="2.1"/>
<circle cx="448.6" cy="82.0" r="2.1"/>
<circle cx="448.6" cy="90.0" r="2.1"/>
<circle cx="448.6" cy="99.0" r="2.1"/>
<circle cx="448.7" cy="61.0" r="2.1"/>
<circle cx="449.3" cy="100.2" r="2.1"/>
<circle cx="449.9" cy="110.0" r="2.1"/>
<circle cx="450.5" cy="114.0" r="2.1"/>
<circle cx="451.1" cy="118.5" r="2.1"/>
<circle cx="451.7" cy="123.3" r="2.1"/>
<circle cx="452.3" cy="133.5" r="2.1"/>
<circle cx="452.4" cy="136.0" r="2.1"/>
<circle cx="452.9" cy="120.5" r="2.1"/>
<circle cx="453.5" cy="103.5" r="2.1"/>
<circle cx="454.0" cy="79.0" r="2.1"/>
<circle cx="454.0" cy="88.0" r="2.1"/>
<circle cx="454.1" cy="82.6" r="2.1"/>
<circle cx="454.2" cy="96.0" r="2.1"/>
<circle cx="454.7" cy="103.1" r="2.1"/>
<circle cx="455.3" cy="108.4" r="2.1"/>
<circle cx="455.9" cy="110.2" r="2.1"/>
<circle cx="456.5" cy="112.0" r="2.1"/>
<circle cx="457.1" cy="114.2" r="2.1"/>
<circle cx="457.7" cy="116.3" r="2.1"/>
<circle cx="458.3" cy="118.1" r="2.1"/>
<circle cx="458.9" cy="120.1" r="2.1"/>
<circle cx="459.5" cy="120.1" r="2.1"/>
<circle cx="460.1" cy="120.3" r="2.1"/>
<circle cx="460.7" cy="119.0" r="2.1"/>
<circle cx="461.3" cy="118.2" r="2.1"/>
<circle cx="461.9" cy="118.1" r="2.1"/>
<circle cx="462.5" cy="119.9" r="2.1"/>
<circle cx="463.1" cy="122.7" r="2.1"/>
<circle cx="463.7" cy="124.1" r="2.1"/>
<circle cx="464.3" cy="127.0" r="2.1"/>
<circle cx="464.9" cy="129.4" r="2.1"/>
<circle cx="465.5" cy="131.2" r="2.1"/>
<circle cx="466.1" cy="135.2" r="2.1"/>
<circle cx="466.7" cy="136.6" r="2.1"/>
<circle cx="467.3" cy="139.0" r="2.1"/>
<circle cx="467.9" cy="139.9" r="2.1"/>
<circle cx="468.5" cy="137.2" r="2.1"/>
<circle cx="469.1" cy="135.8" r="2.1"/>
<circle cx="469.7" cy="132.8" r="2.1"/>
<circle cx="470.3" cy="129.8" r="2.1"/>
<circle cx="470.9" cy="101.4" r="2.1"/>
<circle cx="471.5" cy="68.9" r="2.1"/>
<circle cx="471.6" cy="63.0" r="2.1"/>
<circle cx="471.6" cy="72.0" r="2.1"/>
<circle cx="471.8" cy="82.0" r="2.1"/>
<circle cx="472.1" cy="92.8" r="2.1"/>
<circle cx="472.7" cy="108.5" r="2.1"/>
<circle cx="473.3" cy="113.8" r="2.1"/>
<circle cx="473.9" cy="119.8" r="2.1"/>
<circle cx="474.5" cy="122.2" r="2.1"/>
<circle cx="475.1" cy="125.1" r="2.1"/>
<circle cx="475.7" cy="128.1" r="2.1"/>
<circle cx="476.3" cy="130.2" r="2.1"/>
<circle cx="476.9" cy="129.3" r="2.1"/>
<circle cx="477.5" cy="128.3" r="2.1"/>
<circle cx="478.1" cy="127.5" r="2.1"/>
<circle cx="478.7" cy="129.7" r="2.1"/>
<circle cx="479.3" cy="131.4" r="2.1"/>
<circle cx="479.9" cy="131.9" r="2.1"/>
<circle cx="480.5" cy="131.9" r="2.1"/>
<circle cx="481.1" cy="132.7" r="2.1"/>
<circle cx="481.7" cy="133.6" r="2.1"/>
<circle cx="482.3" cy="134.5" r="2.1"/>
<circle cx="482.9" cy="135.1" r="2.1"/>
<circle cx="483.5" cy="134.5" r="2.1"/>
<circle cx="484.1" cy="134.6" r="2.1"/>
<circle cx="484.7" cy="134.3" r="2.1"/>
<circle cx="485.3" cy="132.8" r="2.1"/>
<circle cx="485.9" cy="135.3" r="2.1"/>
<circle cx="486.5" cy="137.5" r="2.1"/>
<circle cx="487.1" cy="141.1" r="2.1"/>
<circle cx="487.7" cy="144.9" r="2.1"/>
<circle cx="488.3" cy="147.1" r="2.1"/>
<circle cx="488.9" cy="146.5" r="2.1"/>
<circle cx="489.5" cy="147.7" r="2.1"/>
<circle cx="490.1" cy="149.0" r="2.1"/>
<circle cx="490.7" cy="150.3" r="2.1"/>
<circle cx="491.3" cy="149.4" r="2.1"/>
<circle cx="491.9" cy="150.0" r="2.1"/>
<circle cx="492.5" cy="151.1" r="2.1"/>
<circle cx="493.1" cy="150.1" r="2.1"/>
<circle cx="493.7" cy="150.7" r="2.1"/>
<circle cx="494.3" cy="150.1" r="2.1"/>
<circle cx="494.9" cy="149.5" r="2.1"/>
<circle cx="495.5" cy="149.2" r="2.1"/>
<circle cx="496.1" cy="147.8" r="2.1"/>
<circle cx="496.7" cy="150.5" r="2.1"/>
<circle cx="497.3" cy="152.0" r="2.1"/>
<circle cx="497.9" cy="153.3" r="2.1"/>
<circle cx="498.5" cy="153.6" r="2.1"/>
<circle cx="499.1" cy="154.8" r="2.1"/>
<circle cx="499.7" cy="154.5" r="2.1"/>
<circle cx="500.3" cy="154.6" r="2.1"/>
<circle cx="500.9" cy="153.7" r="2.1"/>
<circle cx="501.5" cy="117.6" r="2.1"/>
<circle cx="501.8" cy="95.0" r="2.1"/>
<circle cx="502.1" cy="102.5" r="2.1"/>
<circle cx="502.7" cy="114.6" r="2.1"/>
<circle cx="503.3" cy="121.3" r="2.1"/>
<circle cx="503.9" cy="125.8" r="2.1"/>
<circle cx="504.5" cy="128.3" r="2.1"/>
<circle cx="505.1" cy="130.8" r="2.1"/>
<circle cx="505.7" cy="132.3" r="2.1"/>
<circle cx="506.3" cy="133.8" r="2.1"/>
<circle cx="506.9" cy="132.2" r="2.1"/>
<circle cx="507.5" cy="132.0" r="2.1"/>
<circle cx="508.1" cy="130.7" r="2.1"/>
<circle cx="508.7" cy="134.4" r="2.1"/>
<circle cx="509.3" cy="137.7" r="2.1"/>
<circle cx="509.9" cy="139.9" r="2.1"/>
<circle cx="510.5" cy="140.2" r="2.1"/>
<circle cx="511.1" cy="141.7" r="2.1"/>
<circle cx="511.7" cy="143.3" r="2.1"/>
<circle cx="512.3" cy="142.2" r="2.1"/>
<circle cx="512.9" cy="141.7" r="2.1"/>
<circle cx="513.5" cy="141.1" r="2.1"/>
<circle cx="514.1" cy="140.0" r="2.1"/>
<circle cx="514.7" cy="141.2" r="2.1"/>
<circle cx="515.3" cy="141.4" r="2.1"/>
<circle cx="515.9" cy="140.7" r="2.1"/>
<circle cx="516.5" cy="140.8" r="2.1"/>
<circle cx="517.1" cy="140.7" r="2.1"/>
<circle cx="517.7" cy="141.6" r="2.1"/>
<circle cx="518.3" cy="142.7" r="2.1"/>
<circle cx="518.9" cy="141.4" r="2.1"/>
<circle cx="519.5" cy="142.8" r="2.1"/>
<circle cx="520.1" cy="142.9" r="2.1"/>
<circle cx="520.7" cy="143.8" r="2.1"/>
<circle cx="521.3" cy="145.6" r="2.1"/>
<circle cx="521.9" cy="145.9" r="2.1"/>
<circle cx="522.5" cy="146.5" r="2.1"/>
<circle cx="523.1" cy="147.6" r="2.1"/>
<circle cx="523.7" cy="149.1" r="2.1"/>
<circle cx="524.3" cy="149.7" r="2.1"/>
<circle cx="524.9" cy="148.5" r="2.1"/>
<circle cx="525.5" cy="148.6" r="2.1"/>
<circle cx="526.1" cy="149.7" r="2.1"/>
<circle cx="526.7" cy="148.4" r="2.1"/>
<circle cx="527.3" cy="149.4" r="2.1"/>
<circle cx="527.9" cy="149.8" r="2.1"/>
<circle cx="528.5" cy="150.6" r="2.1"/>
<circle cx="529.1" cy="150.6" r="2.1"/>
<circle cx="529.7" cy="150.8" r="2.1"/>
<circle cx="530.3" cy="150.1" r="2.1"/>
<circle cx="530.9" cy="149.2" r="2.1"/>
<circle cx="531.5" cy="149.0" r="2.1"/>
</g>
<path d="M125,21.8H142" stroke="#4a4a4a" stroke-width="1"/>
<circle cx="133.6" cy="21.8" r="1.9" fill="#868686" stroke="#333" stroke-width="0.85"/>
<path d="M333.5,21.8H349.5" stroke="#111" stroke-width="1.2" stroke-dasharray="3.1 1.2"/>
<text x="101.3" y="26.4" font-family="Liberation Sans, Arial, sans-serif" font-size="16" font-weight="bold" fill="#111">(a)</text>
<text x="145.4" y="26.4" font-family="Liberation Sans, Arial, sans-serif" font-size="13" fill="#161616" stroke="#161616" stroke-width="0.25">Interflow on Kaoping River</text>
<text x="353.8" y="26.4" font-family="Liberation Sans, Arial, sans-serif" font-size="13" fill="#161616" stroke="#161616" stroke-width="0.25">Interflow on Pingtung Plain</text>
<text x="40.2" y="19.3" font-family="Liberation Sans, Arial, sans-serif" font-size="12" fill="#161616" stroke="#161616" stroke-width="0.25">1.0 x 10<tspan dx="0.6" dy="-4.4" font-size="9.5">8</tspan></text>
<text x="40.2" y="64" font-family="Liberation Sans, Arial, sans-serif" font-size="12" fill="#161616" stroke="#161616" stroke-width="0.25">1.0 x 10<tspan dx="0.6" dy="-4.4" font-size="9.5">7</tspan></text>
<text x="40.2" y="114.4" font-family="Liberation Sans, Arial, sans-serif" font-size="12" fill="#161616" stroke="#161616" stroke-width="0.25">1.0 x 10<tspan dx="0.6" dy="-4.4" font-size="9.5">6</tspan></text>
<text x="40.2" y="166.4" font-family="Liberation Sans, Arial, sans-serif" font-size="12" fill="#161616" stroke="#161616" stroke-width="0.25">1.0 x 10<tspan dx="0.6" dy="-4.4" font-size="9.5">5</tspan></text>
<text x="40.2" y="212.4" font-family="Liberation Sans, Arial, sans-serif" font-size="12" fill="#161616" stroke="#161616" stroke-width="0.25">1.0 x 10<tspan dx="0.6" dy="-4.4" font-size="9.5">4</tspan></text>
<text x="93" y="230.6" font-family="Liberation Sans, Arial, sans-serif" font-size="12" fill="#161616" stroke="#161616" stroke-width="0.25" textLength="51.2" lengthAdjust="spacing">Jan-2015</text>
<text x="154" y="230.6" font-family="Liberation Sans, Arial, sans-serif" font-size="12" fill="#161616" stroke="#161616" stroke-width="0.25" textLength="51.2" lengthAdjust="spacing">Jun-2015</text>
<text x="219.6" y="230.6" font-family="Liberation Sans, Arial, sans-serif" font-size="12" fill="#161616" stroke="#161616" stroke-width="0.25" textLength="51.2" lengthAdjust="spacing">Dec-2015</text>
<text x="289.4" y="230.6" font-family="Liberation Sans, Arial, sans-serif" font-size="12" fill="#161616" stroke="#161616" stroke-width="0.25" textLength="51.2" lengthAdjust="spacing">Jun-2016</text>
<text x="361" y="230.6" font-family="Liberation Sans, Arial, sans-serif" font-size="12" fill="#161616" stroke="#161616" stroke-width="0.25" textLength="51.2" lengthAdjust="spacing">Dec-2016</text>
<text x="427.3" y="230.6" font-family="Liberation Sans, Arial, sans-serif" font-size="12" fill="#161616" stroke="#161616" stroke-width="0.25" textLength="51.2" lengthAdjust="spacing">Jun-2017</text>
<text x="488.6" y="230.6" font-family="Liberation Sans, Arial, sans-serif" font-size="12" fill="#161616" stroke="#161616" stroke-width="0.25" textLength="51.2" lengthAdjust="spacing">Dec-2017</text>
<text transform="translate(17.0,110.6) rotate(-90)" text-anchor="middle" font-family="Liberation Sans, Arial, sans-serif" font-size="13.1" fill="#161616" stroke="#161616" stroke-width="0.25">Volumetric flow rate of interflow</text>
<text transform="translate(32.2,110.4) rotate(-90)" text-anchor="middle" font-family="Liberation Sans, Arial, sans-serif" font-size="13.4" fill="#161616" stroke="#161616" stroke-width="0.25">- log scale (m<tspan dy="-4" font-size="8.5">3</tspan><tspan dy="4">/d)</tspan></text>
<rect x="167" y="476.4" width="7.4" height="6" fill="#f7eaf6"/>
<g stroke="#3a3a3a" stroke-width="0.6" stroke-linejoin="round">
<path d="M147.4,482.2 L148.0,480.2 L149.4,478.4 L151.4,477.0 L154.0,476.4 L158.8,476.3 L167.0,476.4 L167.0,482.4 L182.8,483.8 L181.4,485.6 L178.5,486.8 L173.0,487.8 L166.8,488.3 L160.0,488.0 L154.0,486.8 L150.4,485.2 L148.2,483.6 Z" fill="#f1f4a8"/>
<path d="M174.0,476.4 L180.0,476.0 L193.0,476.6 L195.0,477.6 L196.8,478.9 L199.5,481.2 L200.2,482.6 L199.0,483.4 L196.0,484.2 L192.0,485.0 L188.6,485.3 L185.5,484.4 L183.2,483.2 L174.0,482.4 Z" fill="#fbb3df"/>
<path d="M199.5,482.2 L208.6,482.4 L208.8,484.0 L209.5,488.6 L207.0,488.2 L203.0,486.8 L200.6,484.4 Z" fill="#c4f1f6"/>
<path d="M208.2,482.4 L225.4,482.4 L226.8,486.8 L232.6,488.3 L233.8,490.6 L228.0,490.2 L220.0,489.8 L214.0,489.2 L209.5,488.8 L208.6,486.0 Z" fill="#bdb2f6"/>
<path d="M225.4,482.4 L248.6,482.4 L246.0,485.6 L244.0,488.6 L243.0,491.0 L236.0,491.2 L233.8,490.6 L232.6,488.3 L226.8,486.8 Z" fill="#c9e2fa"/>
<path d="M244.6,482.2 L270.4,482.2 L269.0,484.8 L263.0,486.8 L255.0,488.6 L249.0,490.2 L243.0,491.0 L244.0,488.6 L246.0,485.6 Z" fill="#cdf4b4"/>
<path d="M269.0,482.2 L285.4,482.2 L285.0,484.6 L280.0,485.4 L274.0,485.3 L270.0,484.4 Z" fill="#f9c1e6"/>
<path d="M285.4,482.2 L296.4,482.4 L296.2,484.4 L294.0,486.6 L290.0,486.6 L287.0,485.4 Z" fill="#aebff3"/>
<path d="M296.4,482.6 L300.0,483.2 L312.6,483.2 L314.0,485.0 L318.0,486.6 L321.4,487.6 L320.6,489.4 L317.0,489.9 L313.0,488.8 L309.5,486.4 L304.0,485.2 L298.0,485.0 L296.2,484.4 Z" fill="#d2caf6"/>
<path d="M312.6,482.4 L323.6,482.4 L324.2,484.4 L323.0,486.4 L321.4,487.6 L318.0,486.6 L314.0,485.0 Z" fill="#d5f5c4"/>
<path d="M323.6,482.4 L342.6,482.4 L343.0,484.0 L344.4,487.6 L338.0,488.0 L330.0,487.8 L325.0,487.0 L323.0,486.4 L324.2,484.4 Z" fill="#fbc3e6"/>
<path d="M342.6,482.4 L356.0,482.6 L358.0,484.8 L363.0,487.0 L362.0,488.0 L355.0,488.4 L348.0,488.0 L344.4,487.2 L343.0,484.0 Z" fill="#acf0d3"/>
<path d="M356.0,482.6 L377.0,482.4 L377.4,487.0 L378.0,489.2 L372.0,488.8 L366.0,487.8 L363.0,487.0 L358.0,484.8 Z" fill="#fbd5d6"/>
<path d="M377.0,482.4 L386.2,482.4 L386.2,486.0 L385.2,488.4 L383.0,489.8 L379.5,489.8 L378.0,489.2 L377.4,487.0 Z" fill="#dba8f6"/>
<path d="M243.4,481.0 L247.0,480.4 L253.0,480.2 L253.0,482.2 L243.4,482.2 Z" fill="#cfe3f8"/>
<path d="M261.5,482.2 L261.5,480.5 L269.0,477.2 L270.4,477.0 L270.4,482.2 Z" fill="#d8f5c8"/>
<path d="M279.0,477.4 L282.6,477.2 L284.4,478.0 L284.4,482.2 L279.0,482.2 Z" fill="#f9c1e6"/>
<path d="M291.5,466.2 L295.3,466.2 L295.3,482.2 L291.5,482.2 Z" fill="#ece8fa"/>
<path d="M291.5,471.4 L295.3,470.6 L295.3,474.6 L291.5,475.0 Z" fill="#bcd2f3"/>
<path d="M303.4,465.4 L306.2,465.2 L306.2,471.4 L303.4,471.4 Z" fill="#b9cdf0"/>
<path d="M303.4,471.4 L306.2,471.4 L306.2,482.2 L303.4,482.2 Z" fill="#dcd4f8"/>
<path d="M314.4,463.2 L319.8,461.6 L319.8,480.0 L316.0,479.6 L314.4,482.2 Z" fill="#f9d4b2"/>
<path d="M315.4,482.2 L316.0,479.6 L319.8,480.0 L319.8,482.2 Z" fill="#d9f6cb"/>
<path d="M328.0,462.2 L331.0,462.0 L336.7,463.2 L336.7,470.3 L328.0,472.4 Z" fill="#f9d4b2"/>
<path d="M328.0,472.4 L336.7,470.3 L336.7,482.2 L328.0,482.2 Z" fill="#dcf7cf"/>
<path d="M343.7,464.8 L348.6,465.0 L348.6,482.2 L343.7,482.2 Z" fill="#fbcbe8"/>
<path d="M345.6,480.4 L346.2,476.0 L348.6,474.6 L348.6,480.4 Z" fill="#acf0d3"/>
<path d="M355.7,465.8 L358.0,466.0 L362.8,467.0 L362.8,482.2 L355.7,482.2 Z" fill="#fbd3ea"/>
<path d="M356.6,481.0 L357.0,476.4 L358.4,473.6 L360.6,472.0 L362.2,472.2 L362.4,474.4 L360.4,475.4 L359.4,478.0 L359.4,481.0 Z" fill="#acf0d3"/>
<path d="M370.4,467.6 L372.0,468.0 L377.0,468.6 L377.0,482.2 L370.4,482.2 Z" fill="#f6d6ee"/>
<path d="M371.6,473.0 L373.0,471.6 L374.4,472.4 L374.6,478.4 L373.6,479.4 Z" fill="#dcaef4"/>
<path d="M384.6,472.8 L386.2,473.2 L386.2,482.4 L384.6,482.4 Z" fill="#dba8f6"/>
</g>
<g fill="#2b3cf0">
<circle cx="171.2" cy="478.8" r="0.9"/>
<circle cx="178" cy="478.6" r="0.9"/>
<circle cx="183" cy="478.4" r="0.9"/>
<circle cx="198.6" cy="481" r="0.9"/>
<circle cx="211.5" cy="483.2" r="0.9"/>
<circle cx="218" cy="483.2" r="0.9"/>
<circle cx="224.6" cy="483.2" r="0.9"/>
<circle cx="238.4" cy="483.2" r="0.9"/>
<circle cx="245.8" cy="481.2" r="0.9"/>
<circle cx="251.5" cy="481" r="0.9"/>
<circle cx="265.4" cy="480.2" r="0.9"/>
<circle cx="292.6" cy="478.6" r="0.9"/>
<circle cx="293.4" cy="473" r="0.9"/>
<circle cx="304.8" cy="475.2" r="0.9"/>
<circle cx="318" cy="477.8" r="0.9"/>
<circle cx="332.4" cy="484.6" r="0.9"/>
<circle cx="338.8" cy="484.6" r="0.9"/>
<circle cx="345.8" cy="480.2" r="0.9"/>
<circle cx="358.6" cy="479.6" r="0.9"/>
<circle cx="372.6" cy="478.6" r="0.9"/>
<circle cx="339.4" cy="484.6" r="0.9"/>
</g>
<path d="M54.0,519.6 L57.8,518.3 L65.4,516.8 L73.1,515.0 L80.7,512.4 L88.3,509.9 L96.0,507.3 L103.6,504.0 L111.2,502.3 L118.9,497.2 L126.5,493.3 L134.1,489.5 L141.8,485.7 L148.0,482.0 L149.0,479.0 L152.0,475.0 L155.0,472.0 L158.0,471.0 L162.0,466.0 L167.0,460.0 L170.0,458.0 L174.0,455.0 L178.0,453.6 L182.0,455.0 L185.6,459.0 L189.0,461.0 L193.0,462.0 L197.0,465.0 L202.0,466.0 L206.0,467.0 L209.6,468.0 L214.0,469.0 L218.6,468.0 L222.0,467.0 L226.0,465.0 L231.0,462.0 L235.6,460.0 L239.0,457.5 L243.0,455.0 L248.0,455.5 L254.0,457.0 L261.4,457.0 L266.0,458.0 L271.6,460.0 L279.0,461.0 L280.2,462.4 L281.6,466.0 L284.4,466.4" fill="none" stroke="#151515" stroke-width="1.05" stroke-linejoin="round"/>
<path d="M284.4,466.4 L292.0,466.2 L300.0,465.8 L306.2,465.0 L310.0,464.0 L314.4,463.2 L319.8,461.6 L324.0,461.8 L328.0,462.2 L331.0,462.0 L336.7,463.2 L343.7,464.8 L350.0,465.2 L358.0,466.0 L365.0,467.2 L372.0,468.0 L378.0,468.8 L384.6,470.0 L384.6,472.8 L386.2,473.2" fill="none" stroke="#333" stroke-width="0.8" stroke-linejoin="round"/>
<path d="M386.2,473.2 L388.0,471.4 L392.0,469.0 L398.0,468.0 L406.0,469.0 L414.0,471.0 L422.0,472.8 L431.8,472.0 L441.3,473.0 L444.8,474.8 L447.2,478.4 L450.7,481.9 L457.8,483.1 L462.6,485.5 L469.6,486.2 L473.2,487.8 L476.7,491.4 L481.5,493.3 L488.6,493.0 L493.3,494.4 L494.5,496.1 L490.9,497.8 L483.8,496.8 L474.4,495.4 L464.9,494.4 L460.2,496.1 L463.7,498.5 L474.4,501.5 L486.2,505.6 L494.5,506.7 L496.8,508.6 L493.3,511.5 L483.8,512.6 L472.0,511.0 L462.6,509.1 L453.1,507.9 L446.0,508.6 L438.9,510.3 L443.6,511.9 L448.4,513.4 L447.2,516.2 L442.5,516.9 L436.5,515.7 L429.5,513.8 L420.0,514.3 L417.2,513.8 L404.5,512.6 L391.8,513.1 L366.3,515.6 L340.9,517.7 L328.2,518.9 L315.4,518.2 L302.7,517.7 L290.0,516.9 L288.2,516.0 L264.6,516.6 L241.0,517.4 L217.3,517.8 L193.6,517.4 L170.0,516.8 L154.5,517.5 L141.8,518.0 L129.0,518.8 L116.3,519.3 L104.9,520.0 L102.3,521.3 L99.8,520.0 L90.9,520.3 L78.2,520.6 L65.4,520.3 L57.8,520.6 L54.0,519.6" fill="none" stroke="#151515" stroke-width="1.05" stroke-linejoin="round"/>
<path d="M379.5,489.8 L382.4,491.0 L386.0,494.0 L389.0,497.0 L388.0,500.0 L384.0,503.0 L378.0,506.0 L368.9,510.5 L356.2,511.8 L340.9,513.6 L333.3,516.9 L328.2,518.9" fill="none" stroke="#151515" stroke-width="1.05" stroke-linejoin="round"/>
<path d="M128.8,482.4H386.2" stroke="#222" stroke-width="1" fill="none"/>
<rect x="159.3" y="379.3" width="7.3" height="103.1" fill="#f2f5a6" stroke="#303030" stroke-width="1.1"/>
<rect x="185.3" y="360.8" width="7.6" height="121.6" fill="#fcaee0" stroke="#303030" stroke-width="1.1"/>
<rect x="201.8" y="407.1" width="7.6" height="75.3" fill="#c0f3f8" stroke="#303030" stroke-width="1.1"/>
<rect x="218.4" y="351.9" width="7.5" height="130.5" fill="#b9adf8" stroke="#303030" stroke-width="1.1"/>
<rect x="235.1" y="397.7" width="7.9" height="84.7" fill="#c8e3fb" stroke="#303030" stroke-width="1.1"/>
<rect x="253.4" y="362.5" width="7.7" height="119.9" fill="#cdf5b2" stroke="#303030" stroke-width="1.1"/>
<rect x="270.8" y="388.7" width="7.8" height="93.7" fill="#f0bdf8" stroke="#303030" stroke-width="1.1"/>
<rect x="284.1" y="317.1" width="7.5" height="165.3" fill="#a8bdf6" stroke="#303030" stroke-width="1.1"/>
<rect x="295.7" y="321.9" width="7.5" height="160.5" fill="#cfc7f7" stroke="#303030" stroke-width="1.1"/>
<rect x="306.6" y="344.8" width="7.2" height="137.6" fill="#fad3ab" stroke="#303030" stroke-width="1.1"/>
<rect x="320.0" y="299.4" width="7.5" height="183.0" fill="#dcfad0" stroke="#303030" stroke-width="1.1"/>
<rect x="336.1" y="274.1" width="7.5" height="208.3" fill="#fdd0ec" stroke="#303030" stroke-width="1.1"/>
<rect x="348.4" y="343.1" width="7.0" height="139.3" fill="#aaf2d2" stroke="#303030" stroke-width="1.1"/>
<rect x="362.6" y="316.0" width="7.5" height="166.4" fill="#fdd6d3" stroke="#303030" stroke-width="1.1"/>
<rect x="376.8" y="368.2" width="7.5" height="114.2" fill="#dba5f7" stroke="#303030" stroke-width="1.1"/>
<path d="M133.8,252.6V482.4" stroke="#222" stroke-width="1.1" fill="none"/>
<path d="M128.8,252.6H133.8 M128.8,275.6H133.8 M128.8,298.6H133.8 M128.8,321.5H133.8 M128.8,344.5H133.8 M128.8,367.5H133.8 M128.8,390.5H133.8 M128.8,413.5H133.8 M128.8,436.4H133.8 M128.8,459.4H133.8" stroke="#222" stroke-width="1" fill="none"/>
<text transform="translate(128.9,262.5) scale(1.065,1)" text-anchor="end" font-family="Liberation Sans, Arial, sans-serif" font-size="12" fill="#161616" stroke="#161616" stroke-width="0.25">5 x 10<tspan dx="0.6" dy="-4.4" font-size="9.5">4</tspan></text>
<text transform="translate(128.9,282.2) scale(1.065,1)" text-anchor="end" font-family="Liberation Sans, Arial, sans-serif" font-size="12" fill="#161616" stroke="#161616" stroke-width="0.25">4.5 x 10<tspan dx="0.6" dy="-4.4" font-size="9.5">4</tspan></text>
<text transform="translate(128.9,302.2) scale(1.065,1)" text-anchor="end" font-family="Liberation Sans, Arial, sans-serif" font-size="12" fill="#161616" stroke="#161616" stroke-width="0.25">4 x 10<tspan dx="0.6" dy="-4.4" font-size="9.5">4</tspan></text>
<text transform="translate(128.9,325.0) scale(1.065,1)" text-anchor="end" font-family="Liberation Sans, Arial, sans-serif" font-size="12" fill="#161616" stroke="#161616" stroke-width="0.25">3.5 x 10<tspan dx="0.6" dy="-4.4" font-size="9.5">4</tspan></text>
<text transform="translate(128.9,348.5) scale(1.065,1)" text-anchor="end" font-family="Liberation Sans, Arial, sans-serif" font-size="12" fill="#161616" stroke="#161616" stroke-width="0.25">3 x 10<tspan dx="0.6" dy="-4.4" font-size="9.5">4</tspan></text>
<text transform="translate(128.9,371.2) scale(1.065,1)" text-anchor="end" font-family="Liberation Sans, Arial, sans-serif" font-size="12" fill="#161616" stroke="#161616" stroke-width="0.25">2.5 x 10<tspan dx="0.6" dy="-4.4" font-size="9.5">4</tspan></text>
<text transform="translate(128.9,393.8) scale(1.065,1)" text-anchor="end" font-family="Liberation Sans, Arial, sans-serif" font-size="12" fill="#161616" stroke="#161616" stroke-width="0.25">2 x 10<tspan dx="0.6" dy="-4.4" font-size="9.5">4</tspan></text>
<text transform="translate(128.9,417.1) scale(1.065,1)" text-anchor="end" font-family="Liberation Sans, Arial, sans-serif" font-size="12" fill="#161616" stroke="#161616" stroke-width="0.25">1.5 x 10<tspan dx="0.6" dy="-4.4" font-size="9.5">4</tspan></text>
<text transform="translate(128.9,440.5) scale(1.065,1)" text-anchor="end" font-family="Liberation Sans, Arial, sans-serif" font-size="12" fill="#161616" stroke="#161616" stroke-width="0.25">1 x 10<tspan dx="0.6" dy="-4.4" font-size="9.5">4</tspan></text>
<text transform="translate(128.9,463.0) scale(1.065,1)" text-anchor="end" font-family="Liberation Sans, Arial, sans-serif" font-size="12" fill="#161616" stroke="#161616" stroke-width="0.25">5 x 10<tspan dx="0.6" dy="-4.4" font-size="9.5">3</tspan></text>
<text x="127.4" y="483.4" text-anchor="end" font-family="Liberation Sans, Arial, sans-serif" font-size="12" fill="#161616" stroke="#161616" stroke-width="0.25">0</text>
<text x="148" y="268.4" font-family="Liberation Sans, Arial, sans-serif" font-size="16" font-weight="bold" fill="#111">(b)</text>
<text transform="translate(67.2,349) rotate(-90)" text-anchor="middle" font-family="Liberation Sans, Arial, sans-serif" font-size="13.4" fill="#161616" stroke="#161616" stroke-width="0.25">Interflow rate (m<tspan dy="-4" font-size="8.5">3</tspan><tspan dy="4">/d)</tspan></text>
<text x="137.5" y="500" font-family="Liberation Sans, Arial, sans-serif" font-size="13.35" fill="#161616" stroke="#161616" stroke-width="0.25">Downstream</text>
<text x="392.2" y="501" font-family="Liberation Sans, Arial, sans-serif" font-size="13" fill="#161616" stroke="#161616" stroke-width="0.25">Upstream</text>
</svg>
</body></html>
